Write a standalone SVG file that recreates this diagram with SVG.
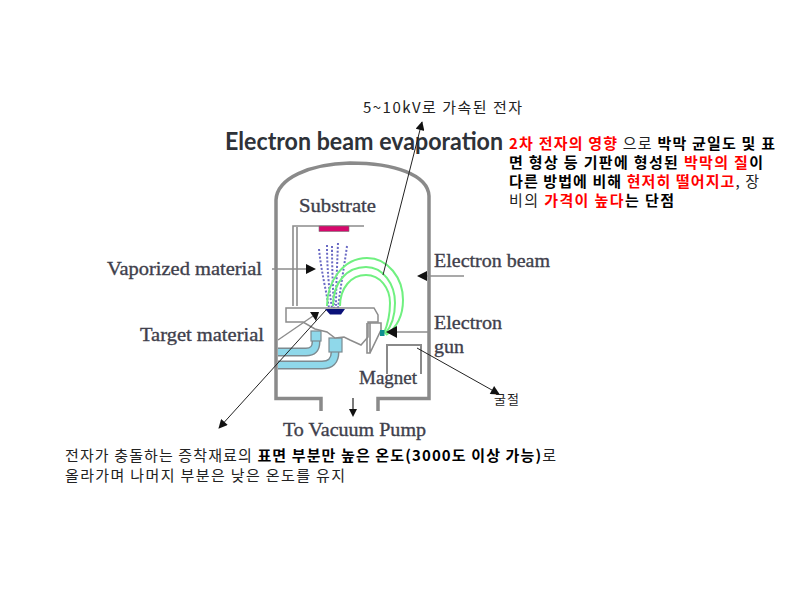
<svg xmlns="http://www.w3.org/2000/svg" width="800" height="600" viewBox="0 0 800 600">
<style>
.s{font-family:"Liberation Serif","DejaVu Serif",serif;font-size:18.500px;font-weight:400;fill:#3f3f4c;stroke:#3f3f4c;stroke-width:.35}
.k{font-family:"Noto Sans CJK KR","Noto Sans",sans-serif;font-size:15px;fill:#222;stroke:none}
.b{font-weight:700;fill:#000}
.r{font-weight:700;fill:#f00}
.wall{fill:none;stroke:#8a8a8a;stroke-width:3.500}
.thin{fill:none;stroke:#8c8c8c;stroke-width:1.600}
.pipe{fill:none;stroke:#7c8a90;stroke-width:9}
.pipei{fill:none;stroke:#8fd8ea;stroke-width:6}
.green{fill:none;stroke:#70f080;stroke-width:2}
.dot{fill:none;stroke:#6a6ac4;stroke-width:2;stroke-dasharray:2 1.800}
.ln{fill:none;stroke:#222;stroke-width:1;marker-end:url(#a)}
.gr{fill:none;stroke:#8c8c8c;stroke-width:1.400}
</style>
<defs>
<marker id="a" viewBox="0 0 10 10" refX="9" refY="5" markerWidth="10" markerHeight="9" markerUnits="userSpaceOnUse" orient="auto"><path d="M0 0L10 5L0 10z" fill="#111"/></marker>
</defs>
<rect width="800" height="600" fill="#fff"/>
<g id="title"><text x="225" y="150" textLength="278" lengthAdjust="spacingAndGlyphs" style="font-family:Lato,'Open Sans',sans-serif;font-size:24px;font-weight:700;fill:#2e3238">Electron beam evaporation</text></g>
<g id="chamber">
<path class="wall" d="M321 411V398.500H276V200C277 178 310 164 350 163C395 163 428 175 429 196V398.500H378V411"/>
</g>
<g id="substrate">
<path class="thin" d="M364 226H293V306M297 227V306"/>
<rect x="319" y="226" width="30" height="5.500" fill="#d6086c" stroke="#777" stroke-width=".6"/>
<text class="s" x="299" y="212" textLength="77" lengthAdjust="spacingAndGlyphs">Substrate</text>
</g>
<g id="plume">
<path class="dot" d="M319 249C321 270 326 290 329 308M327 245C327 268 329 290 332 308M332 246C332 268 333 290 334 308M338 243C337 268 336 290 336 308M347 246C344 268 340 290 338 308"/>
</g>
<g id="target">
<path class="pipe" d="M278 352H306Q316 352 316 342V335"/><path class="pipei" d="M278 352H306Q316 352 316 342V335"/>
<path class="pipe" d="M278 365H322Q335 365 335 352V342"/><path class="pipei" d="M278 365H322Q335 365 335 352V342"/>
<rect x="311" y="331" width="10" height="10" fill="#8fd8ea" stroke="#7c8a90" stroke-width="1.200"/>
<rect x="329" y="338" width="13" height="14" fill="#8fd8ea" stroke="#7c8a90" stroke-width="1.200"/>
<path fill="#fff" stroke="#8c8c8c" stroke-width="1.500" d="M286 308H374L378 315V322H368V337L361 345L350 340L344 337L335 338L327 332L315 329L303 322H286Z"/>
<path class="thin" d="M367 323V353H370V323M368 323H381V330L370 353"/>
<path fill="#0a1078" d="M325 309H345L341 314.500H330Z"/>
</g>
<g id="vaporized-label">
<text class="s" x="107" y="275" textLength="155" lengthAdjust="spacingAndGlyphs">Vaporized material</text>
<path class="gr" d="M272 269H312"/><path d="M306 264L316 269L306 274Z" fill="#111"/>
</g>
<g id="target-label">
<text class="s" x="140" y="341" textLength="124" lengthAdjust="spacingAndGlyphs">Target material</text>
<path class="gr" d="M278 340L313 316"/><path d="M310 312L319 312L316 321Z" fill="#111"/>
</g>
<g id="beam">
<path class="green" d="M327 306C327 282 343 258 367 258C388 258 403 278 403 300C403 316 396 328 386 335"/>
<path class="green" d="M333 306C333 282 347 267 366 267C383 267 395 284 395 303C395 316 391 327 385 334"/>
<path class="green" d="M340 306C340 288 351 275 366 275C380 275 390 288 390 303C390 315 387 326 384 333"/>
<text class="s" x="434" y="267" textLength="116" lengthAdjust="spacingAndGlyphs">Electron beam</text>
<path class="gr" d="M464 276H424"/><path d="M427 271L417 276L427 281Z" fill="#111"/>
</g>
<g id="gun">
<rect x="380" y="330" width="4.500" height="6" fill="#0e8f8f"/>
<path class="gr" d="M429 332H395"/><path d="M397 326L386 332L397 338Z" fill="#111"/>
<text class="s" x="434" y="329" textLength="68" lengthAdjust="spacingAndGlyphs">Electron</text>
<text class="s" x="434" y="353" textLength="30" lengthAdjust="spacingAndGlyphs">gun</text>
</g>
<g id="magnet">
<path fill="none" stroke="#8a8a8a" stroke-width="2" d="M387 374V345H421V374"/>
<text class="s" x="359" y="384" textLength="58" lengthAdjust="spacingAndGlyphs">Magnet</text>
</g>
<g id="pump">
<path fill="none" stroke="#222" stroke-width="1.200" d="M353 398V410"/><path d="M349 409H357L353 417Z" fill="#111"/>
<text class="s" x="283" y="436" textLength="143" lengthAdjust="spacingAndGlyphs">To Vacuum Pump</text>
</g>
<g id="connectors">
<path class="ln" d="M383 275L422 122"/>
<path class="ln" d="M417 348L499 394"/>
<path class="ln" d="M326 310L219 428"/>
</g>
<g id="labels">
<text class="k" x="363" y="113" textLength="159">5~10kV로 가속된 전자</text>
<text class="k" x="494" y="404" style="font-size:13px" textLength="25">굴절</text>
<text class="k" x="509" y="149" textLength="266"><tspan class="r">2차 전자의 영향</tspan> 으로 <tspan class="b">박막 균일도 및 표</tspan></text>
<text class="k" x="509" y="168" textLength="254"><tspan class="b">면 형상 등 기판에 형성된 </tspan><tspan class="r">박막의 질</tspan><tspan class="b">이</tspan></text>
<text class="k" x="509" y="187" textLength="250"><tspan class="b">다른 방법에 비해 </tspan><tspan class="r">현저히 떨어지고</tspan>, 장</text>
<text class="k" x="509" y="206" textLength="165">비의 <tspan class="r">가격이 높다</tspan><tspan class="b">는 단점</tspan></text>
<text class="k" x="65" y="461" textLength="491">전자가 충돌하는 증착재료의 <tspan class="b">표면 부분만 높은 온도(3000도 이상 가능)</tspan>로</text>
<text class="k" x="65" y="481" textLength="280">올라가며 나머지 부분은 낮은 온도를 유지</text>
</g>
</svg>
